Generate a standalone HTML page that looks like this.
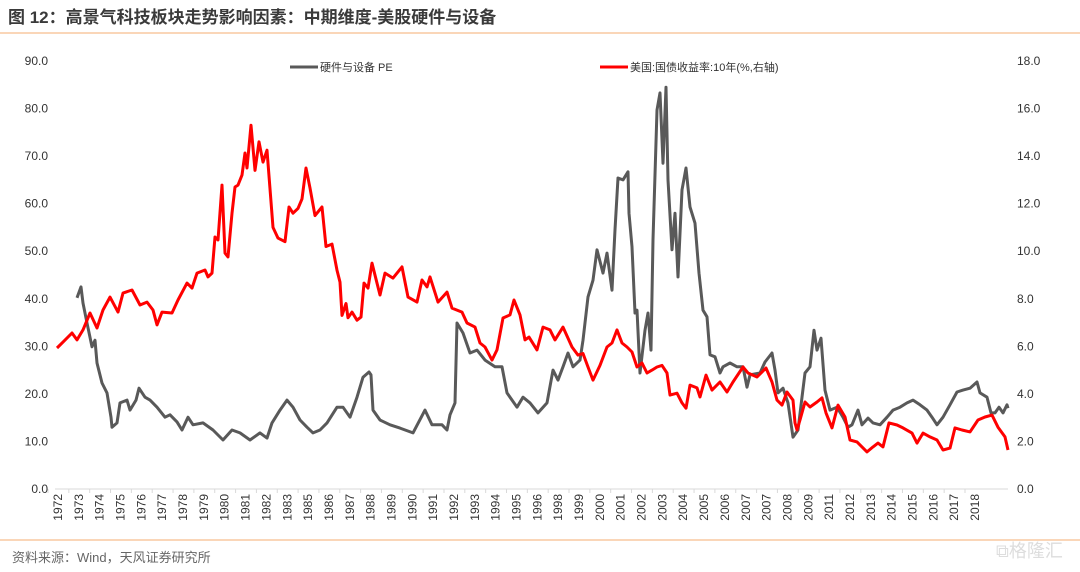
<!DOCTYPE html>
<html><head><meta charset="utf-8"><style>
body{margin:0;background:#fff;width:1080px;height:567px;overflow:hidden;font-family:"Liberation Sans","Noto Sans CJK SC",sans-serif}
</style></head><body>
<svg id="c" width="1080" height="567" xmlns="http://www.w3.org/2000/svg" font-family="'Liberation Sans','Noto Sans CJK SC',sans-serif">
<text x="8" y="23" font-size="17" font-weight="bold" fill="#3a3a3a">图 12：高景气科技板块走势影响因素：中期维度-美股硬件与设备</text>
<line x1="0" y1="33" x2="1080" y2="33" stroke="#f8c9a0" stroke-width="1.5"/>
<line x1="0" y1="540" x2="1080" y2="540" stroke="#f8c9a0" stroke-width="1.5"/>
<text x="12" y="562" font-size="13" fill="#666">资料来源：Wind，天风证券研究所</text>
<text x="996" y="557" font-size="18" fill="#ddd">⧉格隆汇</text>
<g>
<line x1="290" y1="67" x2="318" y2="67" stroke="#595959" stroke-width="3"/>
<text x="320" y="71" font-size="11" fill="#333">硬件与设备 PE</text>
<line x1="600" y1="67" x2="628" y2="67" stroke="#ff0000" stroke-width="3"/>
<text x="630" y="71" font-size="11" fill="#333">美国:国债收益率:10年(%,右轴)</text>
</g>
<g id="axes"></g>
<g id="series"></g>
</svg>
<script>
const leftTicks=["0.0","10.0","20.0","30.0","40.0","50.0","60.0","70.0","80.0","90.0"];
const rightTicks=["0.0","2.0","4.0","6.0","8.0","10.0","12.0","14.0","16.0","18.0"];
const xLabels=["1972","1973","1974","1975","1976","1977","1978","1979","1980","1981","1982","1983","1985","1986","1987","1988","1989","1990","1991","1992","1993","1994","1995","1996","1998","1999","2000","2001","2002","2003","2004","2005","2006","2007","2007","2008","2009","2011","2012","2013","2014","2015","2016","2017","2018"];
const peDates=[1973.10,1973.30,1973.40,1973.60,1973.85,1974.00,1974.10,1974.35,1974.60,1974.80,1974.85,1975.10,1975.25,1975.60,1975.75,1976.05,1976.20,1976.50,1976.75,1977.10,1977.50,1977.75,1978.10,1978.35,1978.65,1978.90,1979.40,1979.90,1980.40,1980.85,1981.25,1981.75,1982.25,1982.60,1982.85,1983.25,1983.60,1983.90,1984.25,1984.60,1984.90,1985.25,1985.60,1986.10,1986.40,1986.75,1987.10,1987.40,1987.70,1987.80,1987.90,1988.25,1988.75,1989.25,1989.90,1990.50,1990.85,1991.35,1991.60,1991.75,1992.00,1992.10,1992.40,1992.75,1993.10,1993.50,1994.00,1994.35,1994.60,1995.10,1995.40,1995.75,1996.15,1996.60,1996.90,1997.15,1997.40,1997.65,1997.90,1998.25,1998.40,1998.65,1998.90,1999.10,1999.40,1999.60,1999.85,2000.00,2000.15,2000.40,2000.65,2000.70,2000.85,2001.00,2001.10,2001.25,2001.50,2001.65,2001.80,2001.90,2002.10,2002.25,2002.40,2002.55,2002.65,2002.85,2003.00,2003.15,2003.35,2003.55,2003.75,2004.00,2004.20,2004.40,2004.60,2004.75,2005.00,2005.25,2005.40,2005.75,2006.10,2006.40,2006.60,2006.75,2007.25,2007.50,2007.85,2008.00,2008.15,2008.40,2008.65,2008.90,2009.15,2009.35,2009.50,2009.75,2009.95,2010.10,2010.30,2010.50,2010.75,2011.10,2011.40,2011.65,2011.85,2012.15,2012.35,2012.65,2012.90,2013.25,2013.60,2013.90,2014.25,2014.60,2014.90,2015.25,2015.60,2015.85,2016.10,2016.40,2016.75,2017.10,2017.40,2017.75,2018.10,2018.25,2018.60,2018.80,2019.00,2019.20,2019.40,2019.60,2019.65];
const peValues=[40.2,42.5,39.1,34.9,29.9,31.3,26.5,22.3,20.2,15.1,13.0,13.9,18.1,18.7,16.6,18.7,21.2,19.3,18.7,17.2,15.1,15.6,14.1,12.4,15.1,13.5,13.9,12.4,10.3,12.4,11.8,10.3,11.8,10.7,13.9,16.6,18.7,17.2,14.5,13.0,11.8,12.4,13.9,17.2,17.2,15.1,19.3,23.5,24.6,24.0,16.6,14.5,13.5,12.8,11.8,16.6,13.5,13.5,12.4,15.6,18.1,34.9,32.8,28.6,29.2,27.1,25.7,25.7,20.2,17.2,19.3,18.1,16.0,18.1,25.0,22.9,25.7,28.6,25.7,27.1,31.3,40.4,43.9,50.3,45.4,49.6,41.8,54.5,65.4,65.0,66.7,58.0,50.9,37.0,37.6,24.4,33.4,37.0,29.2,52.4,79.7,83.3,68.5,84.5,65.0,50.3,58.0,44.6,62.9,67.5,59.3,55.9,45.4,37.6,36.2,28.2,27.8,24.4,25.7,26.5,25.7,25.7,21.4,24.0,24.4,26.7,28.6,25.0,20.2,21.2,18.1,10.9,12.4,19.3,24.4,25.7,33.4,29.2,31.7,20.8,16.6,17.2,15.1,13.0,13.5,16.6,13.5,14.9,13.9,13.5,15.1,16.6,17.2,18.1,18.7,17.7,16.6,15.1,13.5,15.1,17.7,20.4,20.8,21.2,22.5,20.2,19.3,16.0,16.0,17.2,16.0,17.7,17.0];
const ustDates=[1972.10,1972.40,1972.85,1973.10,1973.40,1973.75,1974.10,1974.40,1974.75,1975.15,1975.40,1975.85,1976.25,1976.60,1976.90,1977.10,1977.35,1977.85,1978.15,1978.60,1978.85,1979.10,1979.50,1979.65,1979.85,1980.00,1980.15,1980.35,1980.50,1980.65,1980.85,1981.00,1981.15,1981.35,1981.50,1981.60,1981.80,1982.00,1982.20,1982.40,1982.60,1982.90,1983.15,1983.50,1983.70,1983.90,1984.15,1984.35,1984.55,1984.75,1985.00,1985.35,1985.55,1985.85,1986.10,1986.25,1986.35,1986.55,1986.65,1986.85,1987.10,1987.30,1987.45,1987.65,1987.85,1988.10,1988.25,1988.50,1988.90,1989.35,1989.65,1990.10,1990.35,1990.60,1990.75,1991.15,1991.60,1991.85,1992.35,1992.60,1993.00,1993.25,1993.50,1993.85,1994.10,1994.40,1994.75,1994.95,1995.25,1995.50,1995.70,1996.10,1996.40,1996.75,1997.00,1997.40,1997.85,1998.15,1998.40,1998.65,1998.90,1999.25,1999.60,1999.85,2000.10,2000.35,2000.60,2000.85,2001.10,2001.35,2001.60,2001.85,2002.10,2002.35,2002.60,2002.75,2003.10,2003.35,2003.55,2003.75,2004.10,2004.25,2004.55,2004.85,2005.25,2005.60,2005.90,2006.40,2006.65,2007.10,2007.55,2007.85,2008.10,2008.35,2008.60,2008.90,2009.00,2009.10,2009.25,2009.50,2009.75,2010.10,2010.35,2010.55,2010.85,2011.15,2011.50,2011.75,2012.10,2012.60,2012.90,2013.15,2013.40,2013.70,2014.10,2014.40,2014.85,2015.10,2015.40,2015.75,2016.10,2016.40,2016.75,2017.00,2017.35,2017.75,2018.15,2018.50,2018.85,2019.15,2019.50,2019.65];
const ustValues=[5.93,6.18,6.56,6.27,6.69,7.40,6.77,7.53,8.07,7.44,8.24,8.37,7.74,7.86,7.53,6.90,7.44,7.40,7.95,8.66,8.45,9.08,9.21,8.92,9.08,10.6,10.47,12.78,9.92,9.76,11.6,12.7,12.78,13.2,14.13,13.5,15.3,13.4,14.6,13.75,14.25,11.0,10.55,10.4,11.86,11.6,11.8,12.2,13.5,12.66,11.5,11.86,10.2,10.3,9.2,8.7,7.3,7.8,7.2,7.44,7.1,7.23,8.66,8.45,9.5,8.66,8.16,9.08,8.87,9.34,8.07,7.86,8.79,8.5,8.92,7.86,8.28,7.61,7.44,6.98,6.81,6.14,5.97,5.42,5.85,7.19,7.32,7.95,7.32,6.27,6.39,5.85,6.81,6.69,6.27,6.81,5.97,5.63,5.7,5.13,4.58,5.2,5.97,6.14,6.69,6.14,5.97,5.76,5.13,5.3,4.88,5.0,5.13,5.2,4.88,3.95,4.03,3.62,3.4,4.37,4.25,3.87,4.79,4.16,4.5,4.08,4.5,5.13,4.88,4.71,5.09,4.5,3.74,3.53,4.08,3.74,2.78,2.48,2.9,3.66,3.45,3.66,3.83,3.2,2.57,3.53,3.03,2.06,1.98,1.56,1.77,1.93,1.77,2.78,2.69,2.57,2.35,1.93,2.35,2.19,2.06,1.64,1.72,2.57,2.48,2.4,2.9,3.03,3.11,2.6,2.19,1.64];

const NS='http://www.w3.org/2000/svg';
const X0=55,X1=1008,D0=1972,D1=2019.65,Y0=489,Y1=61;
const xs=d=>X0+(d-D0)/(D1-D0)*(X1-X0);
const yl=v=>Y0-v/90*(Y0-Y1);
const yr=v=>Y0-v/18*(Y0-Y1);
function mk(tag,at,parent){const e=document.createElementNS(NS,tag);for(const k in at)e.setAttribute(k,at[k]);parent.appendChild(e);return e;}
const axes=document.getElementById('axes'),series=document.getElementById('series');
leftTicks.forEach((t,i)=>{const e=mk('text',{x:48,y:yl(i*10)+4,'font-size':12,fill:'#333','text-anchor':'end'},axes);e.textContent=t;

});
rightTicks.forEach((t,i)=>{const e=mk('text',{x:1017,y:yr(i*2)+4,'font-size':12,fill:'#333'},axes);e.textContent=t;

});
const ax=mk('line',{x1:X0,y1:Y0,x2:X1,y2:Y0,stroke:'#d9d9d9','stroke-width':1},axes);


const LX0=58,LX1=975;
xLabels.forEach((t,i)=>{const cx=LX0+i*(LX1-LX0)/(xLabels.length-1);
const tk=mk('line',{x1:cx-10,y1:Y0,x2:cx-10,y2:Y0+4,stroke:'#d9d9d9'},axes);


const e=mk('text',{x:0,y:0,'font-size':12,fill:'#333','text-anchor':'end',transform:`translate(${cx+4},494) rotate(-90)`},axes);e.textContent=t;

});
function path(dates,vals,sc){return dates.map((d,i)=>(i?'L':'M')+xs(d).toFixed(1)+' '+sc(vals[i]).toFixed(1)).join(' ');}
const p1=mk('path',{d:path(peDates,peValues,yl),fill:'none',stroke:'#595959','stroke-width':3,'stroke-linejoin':'round'},series);


const p2=mk('path',{d:path(ustDates,ustValues,yr),fill:'none',stroke:'#ff0000','stroke-width':3,'stroke-linejoin':'round'},series);


</script>
</body></html>
